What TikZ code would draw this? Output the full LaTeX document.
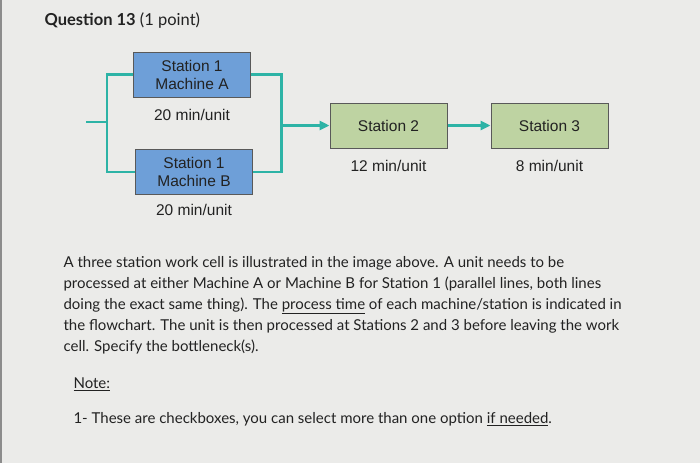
\documentclass[tikz,border=0pt]{standalone}
\usepackage{fontspec}
\setmainfont{Lato}
\newfontfamily\boxfont{Liberation Sans}
\usepackage{tikz}
\usetikzlibrary{arrows.meta, positioning}

\definecolor{pagegray}{HTML}{EBEBE9}
\definecolor{machblue}{HTML}{6E9FD8}
\definecolor{stagreen}{HTML}{BED3A2}
\definecolor{lineteal}{HTML}{2DB3A6}
\definecolor{textgray}{HTML}{222222}

\begin{document}
\begin{tikzpicture}[
        x=1pt, y=-1pt,
        machbox/.style={
            rectangle,
            draw=black!65,
            line width=1pt,
            fill=machblue,
            minimum width=117pt,
            minimum height=45pt,
            align=center,
            font=\boxfont\fontsize{15.5}{18}\selectfont,
            text=textgray
        },
        stabox/.style={
            machbox,
            fill=stagreen
        },
        rate/.style={
            font=\boxfont\fontsize{15.5}{18}\selectfont,
            text=textgray
        },
        flow/.style={
            line width=2.8pt,
            draw=lineteal
        },
        arrow/.style={
            flow,
            -{Triangle[length=10pt,width=9pt]},
            fill=lineteal
        }
    ]

    % Page background
    \useasboundingbox (0,0) rectangle (700,463);
    \fill[pagegray] (0,0) rectangle (700,463);
    \fill[black!45] (0,0) rectangle (2,463);

    % Title
    \node[anchor=west, font=\fontsize{16.5}{20}\selectfont, text=textgray] (title) at (41,21)
        {\textbf{Question 13} (1 point)};

    % Boxes for Station 1
    \node[machbox] (machA) at (192,74.5) {Station 1\\Machine A};
    \node[rate, below=8pt of machA] (rateA) {20 min/unit};
    \node[machbox] (machB) at (194,172) {Station 1\\Machine B};
    \node[rate, below=6pt of machB] (rateB) {20 min/unit};

    % Boxes for Stations 2 and 3
    \node[stabox] (sta2) at (388.5,125.5) {Station 2};
    \node[rate, below=8pt of sta2] (rate2) {12 min/unit};
    \node[stabox, right=43pt of sta2] (sta3) {Station 3};
    \node[rate, below=8pt of sta3] (rate3) {8 min/unit};

    % Split and merge points
    \coordinate (feed) at (86,122);
    \coordinate (split) at (107,122);
    \coordinate[left=48pt of sta2.west] (merge);

    % Parallel lines
    \draw[flow] (feed) -- (split);
    \draw[flow] (machA.west) -| (split) |- (machB.west);
    \draw[flow] (machA.east) -| (merge) |- (machB.east);

    % Arrows between stations
    \draw[arrow] (merge) -- (sta2.west);
    \draw[arrow] (sta2.east) -- (sta3.west);

    % Question text
    \node[anchor=north west, align=left, text=textgray,
          font=\fontsize{15}{21}\selectfont] (question) at (60,253) {
        A three station work cell is illustrated in the image above. A unit needs to be\\
        processed at either Machine A or Machine B for Station 1 (parallel lines, both lines\\
        doing the exact same thing). The \underline{process time} of each machine/station is indicated in\\
        the flowchart. The unit is then processed at Stations 2 and 3 before leaving the work\\
        cell. Specify the bottleneck(s).
    };

    % Note
    \node[anchor=west, text=textgray, font=\fontsize{15}{18}\selectfont] (note) at (70,384)
        {\underline{Note:}};
    \node[anchor=west, text=textgray, font=\fontsize{15}{18}\selectfont] (hint) at (70,419)
        {1- These are checkboxes, you can select more than one option \underline{if needed}.};

\end{tikzpicture}
\end{document}
